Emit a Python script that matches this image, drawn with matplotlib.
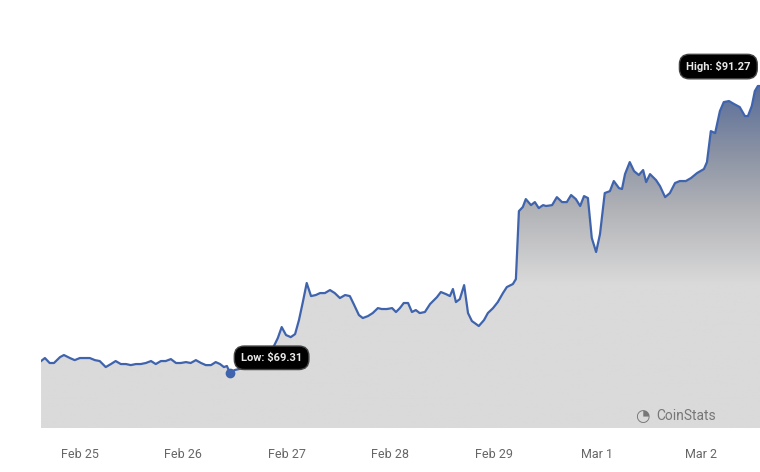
import matplotlib
matplotlib.use("Agg")
import matplotlib.pyplot as plt
import numpy as np
from matplotlib.patches import Polygon
from matplotlib.colors import LinearSegmentedColormap

hours = [-9.0,-8.1,-7.0,-6.0,-4.6,-3.7,-2.3,-1.2,0,1.2,2.3,3.5,4.6,6.0,7.2,8.3,9.5,10.7,11.8,13.0,14.1,15.3,16.5,17.6,18.8,19.9,21.1,22.3,23.4,24.6,25.7,26.9,28.1,29.2,30.4,31.5,32.5,33.4,34.1,34.8,35.9,36.9,38.0,39.4,40.8,42.2,43.6,45.0,45.9,46.8,47.8,48.9,49.9,50.8,51.7,52.6,53.6,54.7,55.7,56.8,58.0,59.1,60.3,61.5,62.6,63.5,64.7,65.6,66.8,67.9,69.1,70.0,71.2,72.4,73.3,74.2,75.1,76.1,77.0,77.9,78.8,80.0,81.2,82.8,83.7,84.9,85.8,86.5,87.2,88.1,89.1,90.0,90.9,92.5,93.7,94.6,95.8,96.9,98.1,99.0,100.4,101.1,101.8,102.7,103.4,104.6,105.5,106.4,107.4,108.1,109.5,110.6,111.8,112.9,113.9,115.0,116.0,116.9,117.8,118.7,119.7,120.6,121.7,122.9,123.8,125.0,125.7,126.4,127.5,128.5,129.6,130.6,131.3,132.2,133.6,134.5,135.7,136.8,138.0,139.1,140.5,141.7,143.1,144.7,145.4,146.3,147.3,148.4,149.3,150.5,151.7,153.0,154.2,154.9,155.8,156.5,157.2,157.7]
prices = [70.23,70.46,70.08,70.08,70.53,70.69,70.46,70.30,70.46,70.46,70.46,70.30,70.23,69.77,70.00,70.23,70.00,70.00,69.92,70.00,70.00,70.08,70.23,70.00,70.23,70.23,70.38,70.08,70.08,70.15,70.08,70.30,70.08,69.92,69.92,70.15,70.00,69.77,69.85,69.31,69.54,69.62,69.69,69.92,70.15,70.30,70.69,71.38,71.99,72.83,72.22,72.06,72.29,73.36,74.74,76.20,75.20,75.28,75.43,75.43,75.66,75.43,75.05,75.28,75.20,74.59,73.75,73.52,73.67,73.90,74.28,74.21,74.21,74.28,73.98,74.28,74.67,74.67,73.98,74.13,73.90,73.98,74.59,75.12,75.51,75.35,75.20,75.74,74.74,74.97,76.04,73.90,73.29,72.91,73.36,73.90,74.28,74.74,75.43,75.89,76.12,76.50,81.70,82.01,82.62,82.16,82.39,81.93,82.16,82.09,82.16,82.77,82.39,82.39,82.93,82.62,82.09,82.85,82.70,79.64,78.57,79.94,83.08,83.23,84.00,83.46,83.39,84.53,85.45,84.76,84.46,84.84,83.92,84.53,84.07,83.62,82.77,83.08,83.85,84.00,84.00,84.23,84.61,84.92,85.45,87.82,87.67,89.35,90.04,90.12,89.89,89.66,88.97,88.97,89.74,90.88,91.27,91.27]
tick_pos = [0, 24, 48, 72, 96, 120, 144]
tick_labels = ["Feb 25", "Feb 26", "Feb 27", "Feb 28", "Feb 29", "Mar 1", "Mar 2"]
low_val, high_val = 69.31, 91.27

fig = plt.figure(figsize=(7.6, 4.72), dpi=100)
ax = fig.add_axes([0.054, 0.093, 0.946, 0.907])
ymin, ymax = 65.1, 97.85
xmin, xmax = hours[0], hours[-1]
ax.set_xlim(xmin, xmax); ax.set_ylim(ymin, ymax)

yy = np.linspace(ymin, ymax, 400)
t = np.clip((yy - 76.0) / (91.5 - 76.0), 0, 1)
grad = t[:, None] * np.ones((1, 2))
cmap = LinearSegmentedColormap.from_list("g2", [(0, "#dadada"), (0.35, "#b4b5b9"), (0.65, "#8b93a4"), (1, "#566b99")])
im = ax.imshow(grad, extent=[xmin, xmax, ymin, ymax], origin="lower", aspect="auto",
               cmap=cmap, vmin=0, vmax=1, zorder=1)
poly = Polygon(list(zip(hours, prices)) + [(xmax, ymin), (xmin, ymin)], closed=True,
               facecolor="none", edgecolor="none", transform=ax.transData)
ax.add_patch(poly)
im.set_clip_path(poly)
ax.plot(hours, prices, color="#3f64ad", lw=1.6, zorder=3)

box = dict(boxstyle="round,pad=0.6,rounding_size=0.9", fc="black", ec="#444")
li = prices.index(low_val)
ax.plot(hours[li], low_val, "o", color="#3f64ad", ms=6, zorder=4)
ax.annotate(f"Low: ${low_val:.2f}", (hours[li], low_val), xytext=(30, 11), textcoords="offset points",
            ha="center", va="center", color="#e8e8e8", fontsize=8, fontweight="bold", fontfamily="Roboto",
            bbox=box, zorder=5)
ax.annotate(f"High: ${high_val:.2f}", (hours[-1], high_val), xytext=(-30, 14), textcoords="offset points",
            ha="center", va="center", color="#e8e8e8", fontsize=8, fontweight="bold", fontfamily="Roboto",
            bbox=box, zorder=5)

ax.set_xticks(tick_pos)
ax.set_xticklabels(tick_labels, fontfamily="Roboto", fontsize=9, color="#666666")
ax.tick_params(length=0, pad=14)
ax.set_yticks([])
for s in ax.spines.values():
    s.set_visible(False)
fig.text(0.863, 0.119, "CoinStats", fontfamily="Roboto", fontsize=10, color="#777777", va="center")
fig.text(0.845, 0.119, "\u25D4", fontsize=12, color="#777777", va="center", ha="center")
fig.savefig("out.png", dpi=100)
